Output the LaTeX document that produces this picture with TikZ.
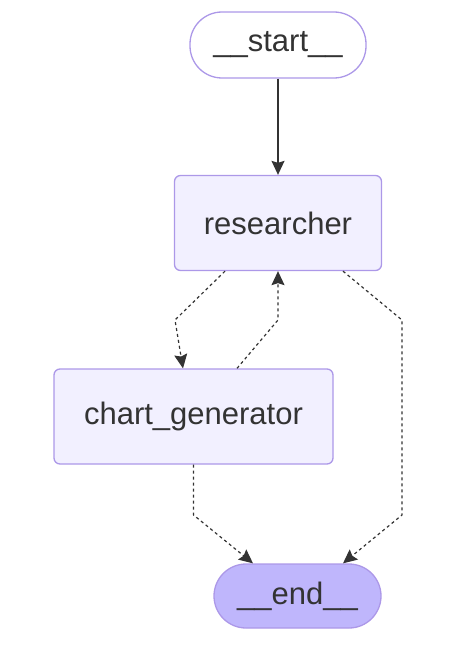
\documentclass[tikz,border=0pt]{standalone}
\usepackage{fontspec}
\setmainfont{Liberation Sans}
\usetikzlibrary{arrows.meta}
\definecolor{boxfill}{HTML}{F2F0FF}
\definecolor{boxline}{HTML}{AC98E8}
\definecolor{endfill}{HTML}{BFB6FC}
\definecolor{txt}{HTML}{333333}
\tikzset{
  step node/.style={draw=boxline, fill=boxfill, line width=1.3pt, rounded corners=6pt, inner sep=0pt, text=txt},
  term node/.style={draw=boxline, line width=1.3pt, rounded corners=32pt, inner sep=0pt, text=txt, minimum height=66pt},
  flow/.style={line width=1.2pt, draw=txt, dash pattern=on 3pt off 3pt}
}
\begin{document}
\begin{tikzpicture}[x=1pt, y=-1pt, font=\fontsize{31}{36}\selectfont, line join=round, >={Stealth[length=14pt,width=13pt,inset=2pt]}]
			\useasboundingbox (0,0) rectangle (474,661);
			\node[term node, fill=white, minimum width=176pt] (start) at (278,45) {\_\_start\_\_};
			\node[step node, minimum width=207pt, minimum height=95pt] (res) at (278,223) {researcher};
			\node[step node, minimum width=279pt, minimum height=95pt] (gen) at (193.5,416.5) {chart\_generator};
			\node[term node, fill=endfill, minimum width=167pt, minimum height=64pt] (end) at (297.5,596) {\_\_end\_\_};
			\draw[->, line width=1.3pt, draw=txt] (start) -- (res);
			\draw[flow, ->] ([xshift=-53pt]res.south) -- (175,320) -- ([xshift=-10.5pt]gen.north);
			\draw[flow, ->] ([xshift=43.5pt]gen.north) -- (278,320) -- (res.south);
			\draw[flow, ->] ([xshift=65pt]res.south) -- (402,320) -- (402,515) -- ([xshift=45.5pt]end.north);
			\draw[flow, ->] (gen.south) -- (193.5,515) -- ([xshift=-44.5pt]end.north);
		\end{tikzpicture}
\end{document}
